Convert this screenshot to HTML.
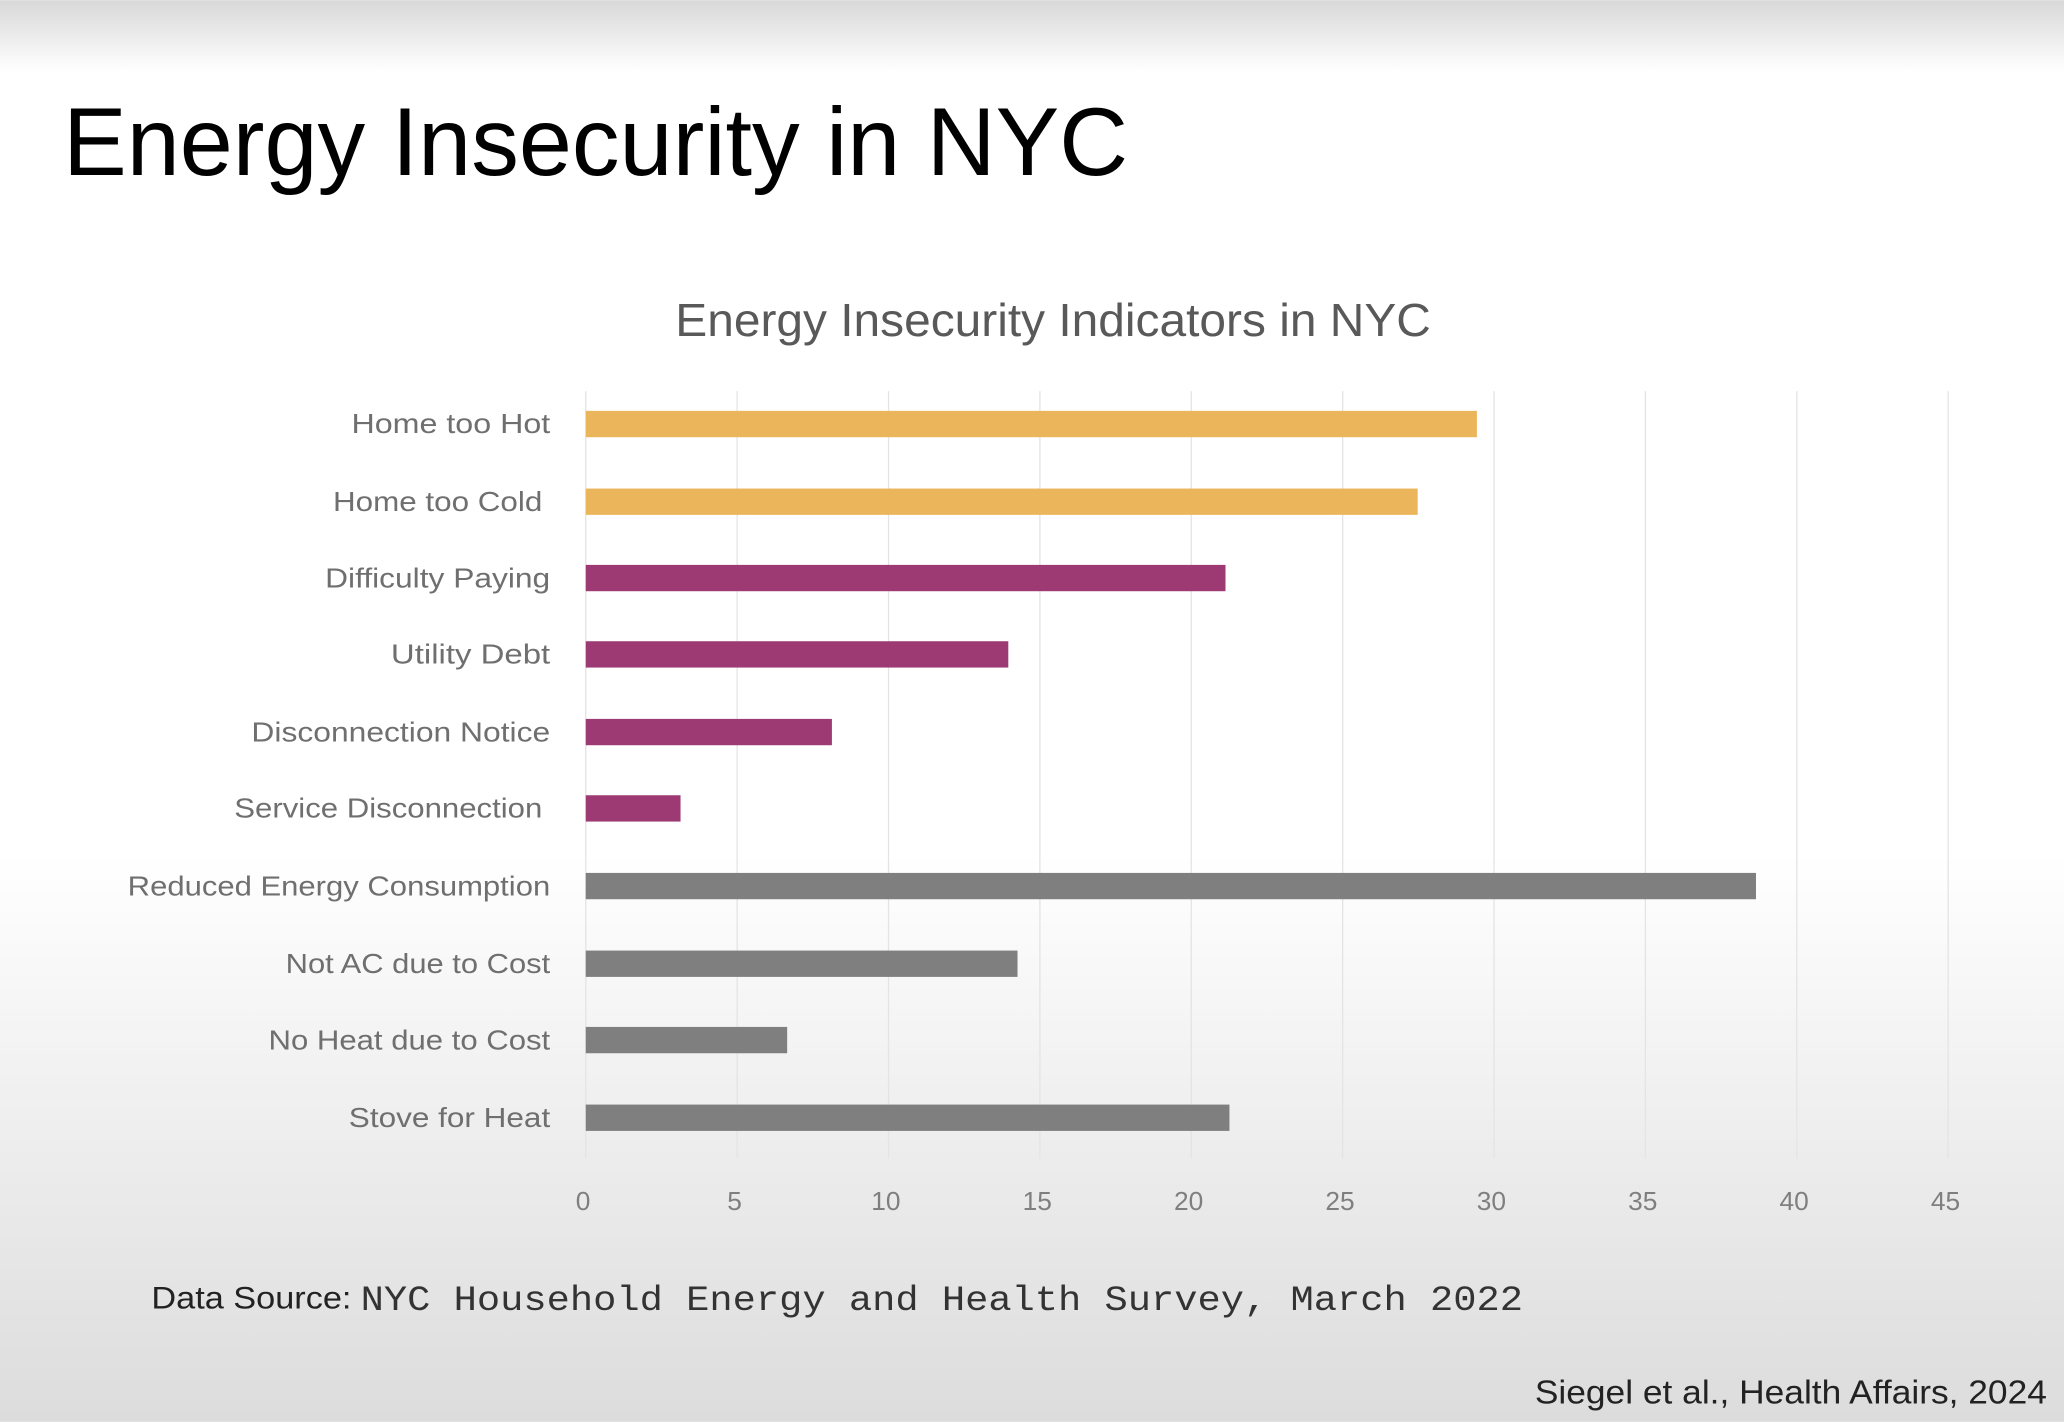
<!DOCTYPE html>
<html><head><meta charset="utf-8"><style>
html,body{margin:0;padding:0;width:2064px;height:1422px;overflow:hidden;}
svg{display:block;}
</style></head><body>
<svg width="2064" height="1422" viewBox="0 0 1568 1080" xmlns="http://www.w3.org/2000/svg" font-family="Liberation Sans, sans-serif">
<defs>
<linearGradient id="bg" x1="0" y1="0" x2="0" y2="1">
<stop offset="0" stop-color="#d8d8d8"/>
<stop offset="0.05" stop-color="#ffffff"/>
<stop offset="0.6" stop-color="#ffffff"/>
<stop offset="1" stop-color="#dcdcdc"/>
</linearGradient>
</defs>
<rect width="1568" height="1080" fill="url(#bg)"/>
<text x="48" y="133" font-size="73" fill="#000" textLength="809" lengthAdjust="spacingAndGlyphs">Energy Insecurity in NYC</text>
<text x="513" y="255" font-size="35" fill="#595959" textLength="574" lengthAdjust="spacingAndGlyphs">Energy Insecurity Indicators in NYC</text>
<g stroke="#e4e4e4" stroke-width="1">
<line x1="445" y1="297" x2="445" y2="880"/><line x1="560" y1="297" x2="560" y2="880"/><line x1="675" y1="297" x2="675" y2="880"/><line x1="790" y1="297" x2="790" y2="880"/><line x1="905" y1="297" x2="905" y2="880"/><line x1="1020" y1="297" x2="1020" y2="880"/><line x1="1135" y1="297" x2="1135" y2="880"/><line x1="1250" y1="297" x2="1250" y2="880"/><line x1="1365" y1="297" x2="1365" y2="880"/><line x1="1480" y1="297" x2="1480" y2="880"/>
</g>
<g>
<rect x="445" y="312" width="677" height="20" fill="#EBB65B"/>
<rect x="445" y="371" width="632" height="20" fill="#EBB65B"/>
<rect x="445" y="429" width="486" height="20" fill="#9E3A73"/>
<rect x="445" y="487" width="321" height="20" fill="#9E3A73"/>
<rect x="445" y="546" width="187" height="20" fill="#9E3A73"/>
<rect x="445" y="604" width="72" height="20" fill="#9E3A73"/>
<rect x="445" y="663" width="889" height="20" fill="#7F7F80"/>
<rect x="445" y="722" width="328" height="20" fill="#7F7F80"/>
<rect x="445" y="780" width="153" height="20" fill="#7F7F80"/>
<rect x="445" y="839" width="489" height="20" fill="#7F7F80"/>
</g>
<g font-size="21" fill="#6f6f6f" lengthAdjust="spacingAndGlyphs">
<text x="267" y="329" textLength="151" lengthAdjust="spacingAndGlyphs">Home too Hot</text>
<text x="253" y="388" textLength="159" lengthAdjust="spacingAndGlyphs">Home too Cold</text>
<text x="247" y="446" textLength="171" lengthAdjust="spacingAndGlyphs">Difficulty Paying</text>
<text x="297" y="504" textLength="121" lengthAdjust="spacingAndGlyphs">Utility Debt</text>
<text x="191" y="563" textLength="227" lengthAdjust="spacingAndGlyphs">Disconnection Notice</text>
<text x="178" y="621" textLength="234" lengthAdjust="spacingAndGlyphs">Service Disconnection</text>
<text x="97" y="680" textLength="321" lengthAdjust="spacingAndGlyphs">Reduced Energy Consumption</text>
<text x="217" y="739" textLength="201" lengthAdjust="spacingAndGlyphs">Not AC due to Cost</text>
<text x="204" y="797" textLength="214" lengthAdjust="spacingAndGlyphs">No Heat due to Cost</text>
<text x="265" y="856" textLength="153" lengthAdjust="spacingAndGlyphs">Stove for Heat</text>
</g>
<g font-size="20" fill="#7f7f7f" text-anchor="middle">
<text x="443" y="919">0</text><text x="558" y="919">5</text><text x="673" y="919">10</text><text x="788" y="919">15</text><text x="903" y="919">20</text><text x="1018" y="919">25</text><text x="1133" y="919">30</text><text x="1248" y="919">35</text><text x="1363" y="919">40</text><text x="1478" y="919">45</text>
</g>
<text x="115" y="994" font-size="24" fill="#222" textLength="152" lengthAdjust="spacingAndGlyphs">Data Source:</text>
<text x="274" y="995" font-size="27" fill="#333" font-family="Liberation Mono, monospace" textLength="883" lengthAdjust="spacingAndGlyphs">NYC Household Energy and Health Survey, March 2022</text>
<text x="1166" y="1066" font-size="25" fill="#222" textLength="389" lengthAdjust="spacingAndGlyphs">Siegel et al., Health Affairs, 2024</text>
</svg>
</body></html>
